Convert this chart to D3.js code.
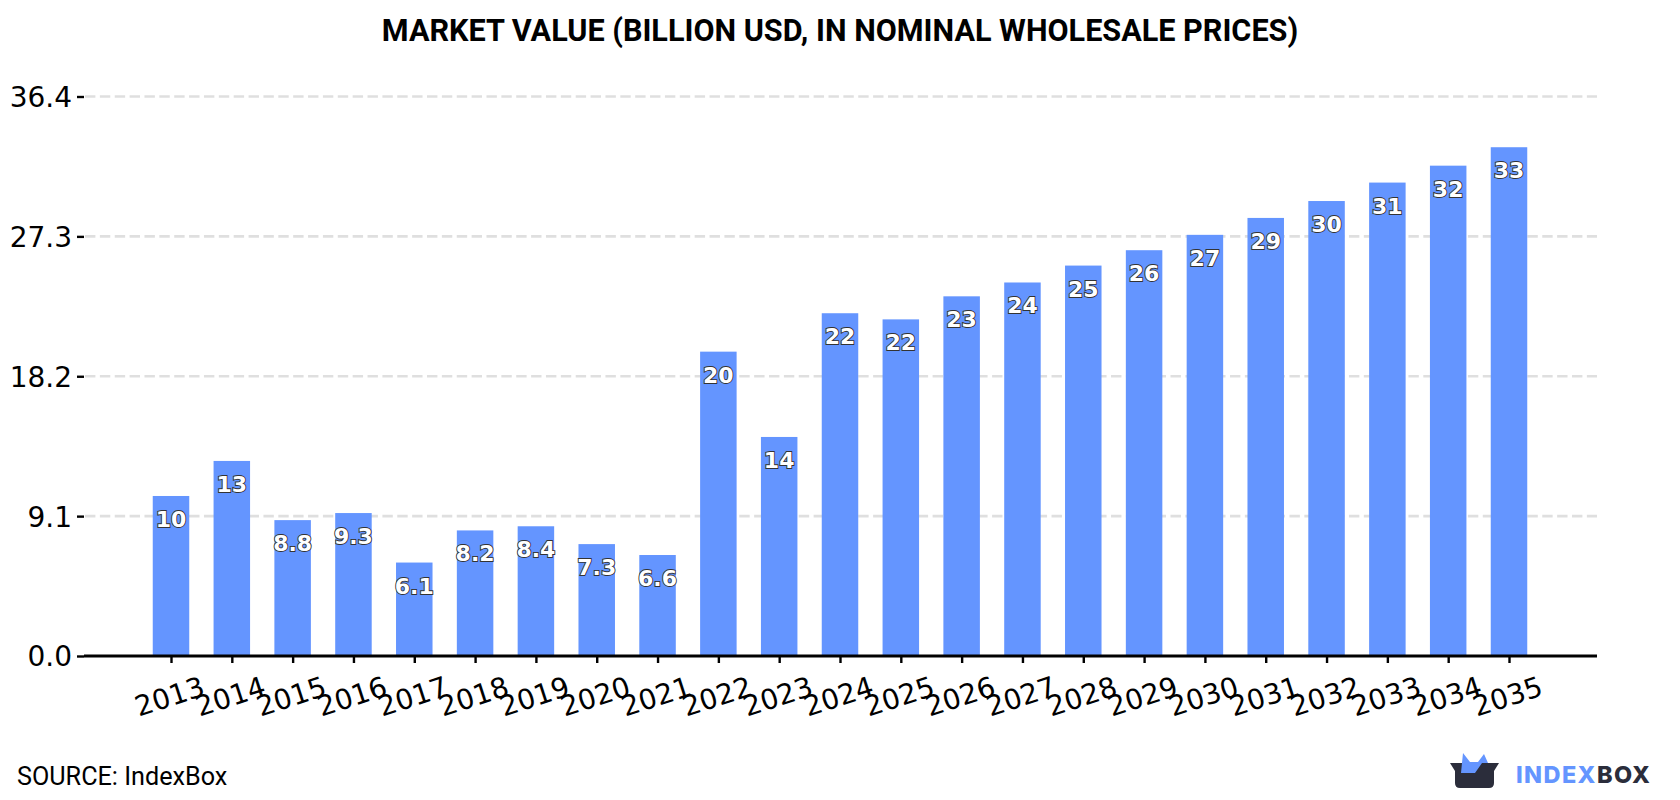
<!DOCTYPE html>
<html>
<head>
<meta charset="utf-8">
<script src="https://cdn.jsdelivr.net/npm/d3@7/dist/d3.min.js"></script>
<style>
  html, body { margin: 0; padding: 0; background: #fff; }
  svg { display: block; }
</style>
</head>
<body>
<svg id="chart" width="1680" height="800"></svg>
<script>
const years = [2013,2014,2015,2016,2017,2018,2019,2020,2021,2022,2023,2024,2025,2026,2027,2028,2029,2030,2031,2032,2033,2034,2035];
const marketValue = [10.41,12.69,8.84,9.3,6.08,8.17,8.44,7.28,6.57,19.8,14.25,22.3,21.9,23.4,24.3,25.4,26.4,27.4,28.5,29.6,30.8,31.9,33.1];
const yTicks = [0, 9.1, 18.2, 27.3, 36.4];

const titleText = "MARKET VALUE (BILLION USD, IN NOMINAL WHOLESALE PRICES)";
const sourceText = "SOURCE: IndexBox";

const plot = { left: 84, right: 1597, top: 96.5, bottom: 656 };
const barColor = "#6495ff";
const inkColor = "#2b2d3b";
const svg = d3.select("#chart");

const y = d3.scaleLinear().domain([0, 36.4]).range([plot.bottom, plot.top]);
const x = d3.scalePoint().domain(years)
  .range([171, 1509]);
const barWidth = 36.5;

// Dashed horizontal guides behind the bars
svg.append("g").selectAll("line").data(yTicks.slice(1)).join("line")
  .attr("x1", plot.left + 1).attr("x2", plot.right)
  .attr("y1", d => y(d)).attr("y2", d => y(d))
  .attr("stroke", "#dfdfdf").attr("stroke-width", 2.6)
  .attr("stroke-dasharray", "10.4,4.47");

// Bars
svg.append("g").selectAll("rect").data(marketValue).join("rect")
  .attr("x", (d, i) => x(years[i]) - barWidth / 2)
  .attr("width", barWidth)
  .attr("y", d => y(d))
  .attr("height", d => y(0) - y(d))
  .attr("fill", barColor);

// Value axis
const yAxis = svg.append("g")
  .attr("transform", `translate(${plot.left},0)`)
  .call(d3.axisLeft(y).tickValues(yTicks).tickFormat(d3.format(".1f")).tickSize(7).tickPadding(5));
yAxis.select(".domain").remove();
yAxis.selectAll("line").attr("stroke", "#000").attr("stroke-width", 2.4);
yAxis.selectAll("text")
  .attr("font-family", "'DejaVu Sans', sans-serif")
  .attr("font-size", 28).attr("fill", "#000")
  .attr("transform", "translate(0,1)");

// Year axis with slanted labels
const xAxis = svg.append("g")
  .attr("transform", `translate(0,${plot.bottom})`)
  .call(d3.axisBottom(x).tickFormat(d3.format("d")).tickSize(7).tickPadding(0));
xAxis.select(".domain").remove();
xAxis.append("line").attr("x1", plot.left).attr("x2", plot.right)
  .attr("stroke", "#000").attr("stroke-width", 3);
xAxis.selectAll(".tick line").attr("stroke", "#000").attr("stroke-width", 2.4);
xAxis.selectAll(".tick text")
  .attr("font-family", "'DejaVu Sans', sans-serif")
  .attr("font-size", 28).attr("fill", "#000")
  .attr("text-anchor", "middle")
  .attr("dy", null)
  .attr("transform", "translate(-1,43) rotate(-18)");

// Value labels inside the top of each bar
svg.append("g").selectAll("text").data(marketValue).join("text")
  .attr("x", (d, i) => x(years[i]))
  .attr("y", d => y(d) + 31)
  .attr("text-anchor", "middle")
  .attr("font-family", "'DejaVu Sans', sans-serif")
  .attr("font-weight", "bold")
  .attr("font-size", 22)
  .attr("fill", "#fff")
  .attr("stroke", "#333")
  .attr("stroke-width", 1.8)
  .attr("paint-order", "stroke")
  .text(d => d3.format(".2")(d));

// Title and source line
svg.append("text").attr("x", 840).attr("y", 41)
  .attr("text-anchor", "middle")
  .attr("font-family", "Roboto, sans-serif").attr("font-weight", "bold")
  .attr("font-size", 30.6).attr("fill", "#000")
  .text(titleText);

svg.append("text").attr("x", 17).attr("y", 785)
  .attr("font-family", "Roboto, sans-serif")
  .attr("font-size", 25.2).attr("fill", "#000")
  .text(sourceText);

// Brand mark: an open box with a blue shape rising from it, then the wordmark
const logo = svg.append("g");
logo.append("path")
  .attr("d", "M1450,763 L1499,763 L1494,771 L1494,783 Q1494,788 1489,788 L1460,788 Q1455,788 1455,783 L1455,771 Z")
  .attr("fill", inkColor);
logo.append("path")
  .attr("d", "M1463,753 L1470,762 L1478,762 L1484,754 L1488,763 L1482,763 L1475,773 L1461,773 Z")
  .attr("fill", barColor);
const word = svg.append("text").attr("x", 1516).attr("y", 782.5)
  .attr("font-family", "Inter, Roboto, sans-serif").attr("font-weight", "800")
  .attr("font-size", 23.5).attr("letter-spacing", 1.4);
word.append("tspan").attr("fill", barColor).text("INDEX");
word.append("tspan").attr("fill", inkColor).text("BOX");
</script>
</body>
</html>
